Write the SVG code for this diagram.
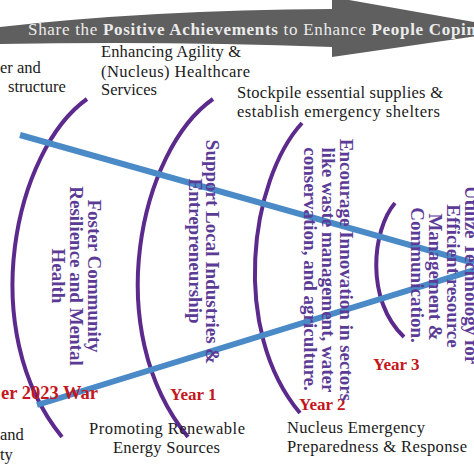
<svg xmlns="http://www.w3.org/2000/svg" width="474" height="474" viewBox="0 0 474 474">
<style>
.lbl{font-family:"Liberation Serif","Times New Roman",serif;font-size:16.5px;fill:#1a1a1a}
.yr{font-family:"Liberation Serif","Times New Roman",serif;font-size:17px;font-weight:bold;fill:#c4161c}
.vt{font-family:"Liberation Serif","Times New Roman",serif;font-size:19px;font-weight:bold;fill:#5b3b96}
.arc{fill:none;stroke:#5c2a8c;stroke-width:4;stroke-linecap:butt}
.blue{fill:none;stroke:#4a8ac6;stroke-width:6}
</style>
<rect width="474" height="474" fill="#ffffff"/>
<g id="banner">
<path d="M0,27 Q150,10 332,9 L332,-3 L520,30 L332,57 L332,47 Q170,41 0,44 Z" fill="#5f5f5f"/>
<text x="28" y="35" font-family="'Liberation Serif','Times New Roman',serif" font-size="17" fill="#ececec" textLength="448" lengthAdjust="spacing">Share the <tspan font-weight="bold">Positive Achievements</tspan> to Enhance <tspan font-weight="bold">People Copin</tspan></text>
</g>
<g id="connectors">
<path class="arc" d="M87,99 C15,150 -25,330 62,437"/>
<path class="arc" d="M213,99 C140,150 100,330 188,437"/>
<path class="arc" d="M302,123 C250,180 230,330 300,413"/>
<path class="arc" d="M395,203 C372,230 365,300 404,337"/>
<path class="blue" d="M20,135 L474,263"/>
<path class="blue" d="M37,405 L474,270"/>
</g>
<g id="label-shelter">
<text class="lbl" x="0" y="73">er and</text>
<text class="lbl" x="8" y="92">structure</text>
</g>
<g id="label-agility">
<text class="lbl" x="101" y="57" textLength="140">Enhancing Agility &amp;</text>
<text class="lbl" x="101" y="77" textLength="149">(Nucleus) Healthcare</text>
<text class="lbl" x="101" y="95">Services</text>
</g>
<g id="label-stockpile">
<text class="lbl" x="237" y="98" textLength="206">Stockpile essential supplies &amp;</text>
<text class="lbl" x="237" y="117" textLength="203">establish emergency shelters</text>
</g>
<g id="label-bottom-left">
<text class="lbl" x="0" y="440">and</text>
<text class="lbl" x="0" y="460">ty</text>
</g>
<g id="label-renewable">
<text class="lbl" x="89" y="434" textLength="156">Promoting Renewable</text>
<text class="lbl" x="113" y="453" textLength="107">Energy Sources</text>
</g>
<g id="label-emergency">
<text class="lbl" x="287" y="433" textLength="138">Nucleus Emergency</text>
<text class="lbl" x="287" y="452" textLength="180">Preparedness &amp; Response</text>
</g>
<g id="year-labels">
<text class="yr" x="98" y="399" text-anchor="end" style="font-size:18.5px">er 2023 War</text>
<text class="yr" x="170" y="400">Year 1</text>
<text class="yr" x="299" y="410">Year 2</text>
<text class="yr" x="373" y="370">Year 3</text>
</g>
<g id="block-foster">
<text class="vt" transform="rotate(90)" text-anchor="middle"><tspan x="276" y="-87.5">Foster Community</tspan><tspan x="276" y="-69.5">Resilience and Mental</tspan><tspan x="276" y="-51.5">Health</tspan></text>
</g>
<g id="block-support">
<text class="vt" transform="rotate(90)" text-anchor="middle"><tspan x="252" y="-205.5">Support Local Industries &amp;</tspan><tspan x="251" y="-188.5">Entrepreneurship</tspan></text>
</g>
<g id="block-innovation">
<text class="vt" transform="rotate(90)" text-anchor="middle"><tspan x="270" y="-339.5">Encourage Innovation in sectors</tspan><tspan x="270" y="-321.5">like waste management, water</tspan><tspan x="269" y="-303.5">conservation, and agriculture.</tspan></text>
</g>
<g id="block-technology">
<text class="vt" transform="rotate(90)" text-anchor="middle"><tspan x="275" y="-465">Utilize Technology for</tspan><tspan x="276" y="-447">Efficient resource</tspan><tspan x="277" y="-429">Management &amp;</tspan><tspan x="275" y="-411">Communication.</tspan></text>
</g>
</svg>
